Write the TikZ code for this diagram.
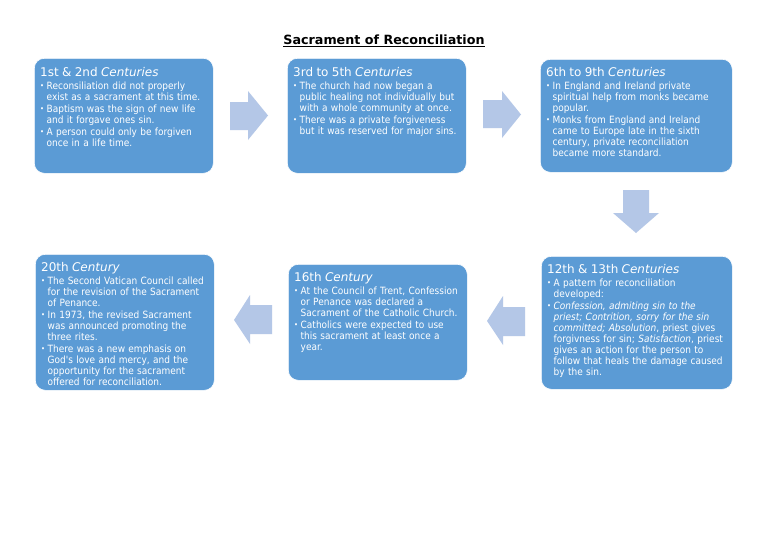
\documentclass[tikz,border=0pt]{standalone}
\usepackage{fontspec}
\setmainfont{DejaVu Sans}
\newfontfamily\bodyfont{DejaVu Sans Condensed}
\definecolor{boxblue}{HTML}{5B9BD5}
\definecolor{arrowblue}{HTML}{B4C7E7}
\newcommand{\hdr}[1]{{\rmfamily\fontsize{12}{13.5}\selectfont #1\par}\vspace{2.5pt}}
\newcommand{\bitem}[1]{\par\hangindent=6.5pt\hangafter=1\noindent\makebox[6.5pt][l]{\fontsize{7.5}{7.5}\selectfont\raisebox{1pt}{•}}#1\par\vspace{0.8pt}}
\tikzset{
  box/.style={draw=white, line width=0.6pt, fill=boxblue, rounded corners=10pt, anchor=north west, inner sep=0pt},
  txt/.style={anchor=north west, inner sep=0pt, text=white, text width=230pt, align=left,
    font=\bodyfont\fontsize{10}{11}\selectfont},
  blockarrow/.style={fill=arrowblue, draw=none}
}
\begin{document}
\begin{tikzpicture}[x=1pt,y=-1pt]
\useasboundingbox (0,0) rectangle (768,543);
\fill[white] (0,0) rectangle (768,543);

\node[anchor=base, inner sep=0pt, font=\fontsize{12.7}{14}\selectfont\bfseries] (title) at (384,45) {\underline{Sacrament of Reconciliation}};

% boxes
\node[box, minimum width=179pt, minimum height=115pt] (b1) at (34,58) {};
\node[box, minimum width=179pt, minimum height=115pt] (b2) at (287,58) {};
\node[box, minimum width=192pt, minimum height=113pt] (b3) at (540,59) {};
\node[box, minimum width=191pt, minimum height=133pt] (b6) at (541,256) {};
\node[box, minimum width=179pt, minimum height=116pt] (b5) at (288,264) {};
\node[box, minimum width=179pt, minimum height=136pt] (b4) at (35,254) {};

% texts
\node[txt] (t1) at ([xshift=6pt,yshift=-9pt]b1.north west) {%
\hdr{1st \& 2nd \textit{Centuries}}%
\bitem{Reconsiliation did not properly\newline exist as a sacrament at this time.}%
\bitem{Baptism was the sign of new life\newline and it forgave ones sin.}%
\bitem{A person could only be forgiven\newline once in a life time.}};

\node[txt] (t2) at ([xshift=6pt,yshift=-9pt]b2.north west) {%
\hdr{3rd to 5th \textit{Centuries}}%
\bitem{The church had now began a\newline public healing not individually but\newline with a whole community at once.}%
\bitem{There was a private forgiveness\newline but it was reserved for major sins.}};

\node[txt] (t3) at ([xshift=6pt,yshift=-8pt]b3.north west) {%
\hdr{6th to 9th \textit{Centuries}}%
\bitem{In England and Ireland private\newline spiritual help from monks became\newline popular.}%
\bitem{Monks from England and Ireland\newline came to Europe late in the sixth\newline century, private reconciliation\newline became more standard.}};

\node[txt] (t6) at ([xshift=6pt,yshift=-8pt]b6.north west) {%
\hdr{12th \& 13th \textit{Centuries}}%
\bitem{A pattern for reconciliation\newline developed:}%
\bitem{\textit{Confession, admiting sin to the\newline priest; Contrition, sorry for the sin\newline committed; Absolution}, priest gives\newline forgivness for sin; \textit{Satisfaction}, priest\newline gives an action for the person to\newline follow that heals the damage caused\newline by the sin.}};

\node[txt] (t5) at ([xshift=6pt,yshift=-8pt]b5.north west) {%
\hdr{16th \textit{Century}}%
\bitem{At the Council of Trent, Confession\newline or Penance was declared a\newline Sacrament of the Catholic Church.}%
\bitem{Catholics were expected to use\newline this sacrament at least once a\newline year.}};

\node[txt] (t4) at ([xshift=6pt,yshift=-8pt]b4.north west) {%
\hdr{20th \textit{Century}}%
\bitem{The Second Vatican Council called\newline for the revision of the Sacrament\newline of Penance.}%
\bitem{In 1973, the revised Sacrament\newline was announced promoting the\newline three rites.}%
\bitem{There was a new emphasis on\newline God's love and mercy, and the\newline opportunity for the sacrament\newline offered for reconciliation.}};

% block arrows
\fill[blockarrow] (230,102) -- (248,102) -- (248,91) -- (268,115.5) -- (248,140) -- (248,130) -- (230,130) -- cycle;
\fill[blockarrow] (483,100) -- (502,100) -- (502,91) -- (521,114.5) -- (502,138) -- (502,128) -- (483,128) -- cycle;
\fill[blockarrow] (623,190) -- (649,190) -- (649,213) -- (659,213) -- (636,233) -- (613,213) -- (623,213) -- cycle;
\fill[blockarrow] (525,307) -- (503,307) -- (503,296) -- (487,321) -- (503,345) -- (503,336) -- (525,336) -- cycle;
\fill[blockarrow] (272,305) -- (250,305) -- (250,295) -- (234,320) -- (250,344) -- (250,334) -- (272,334) -- cycle;
\end{tikzpicture}
\end{document}
